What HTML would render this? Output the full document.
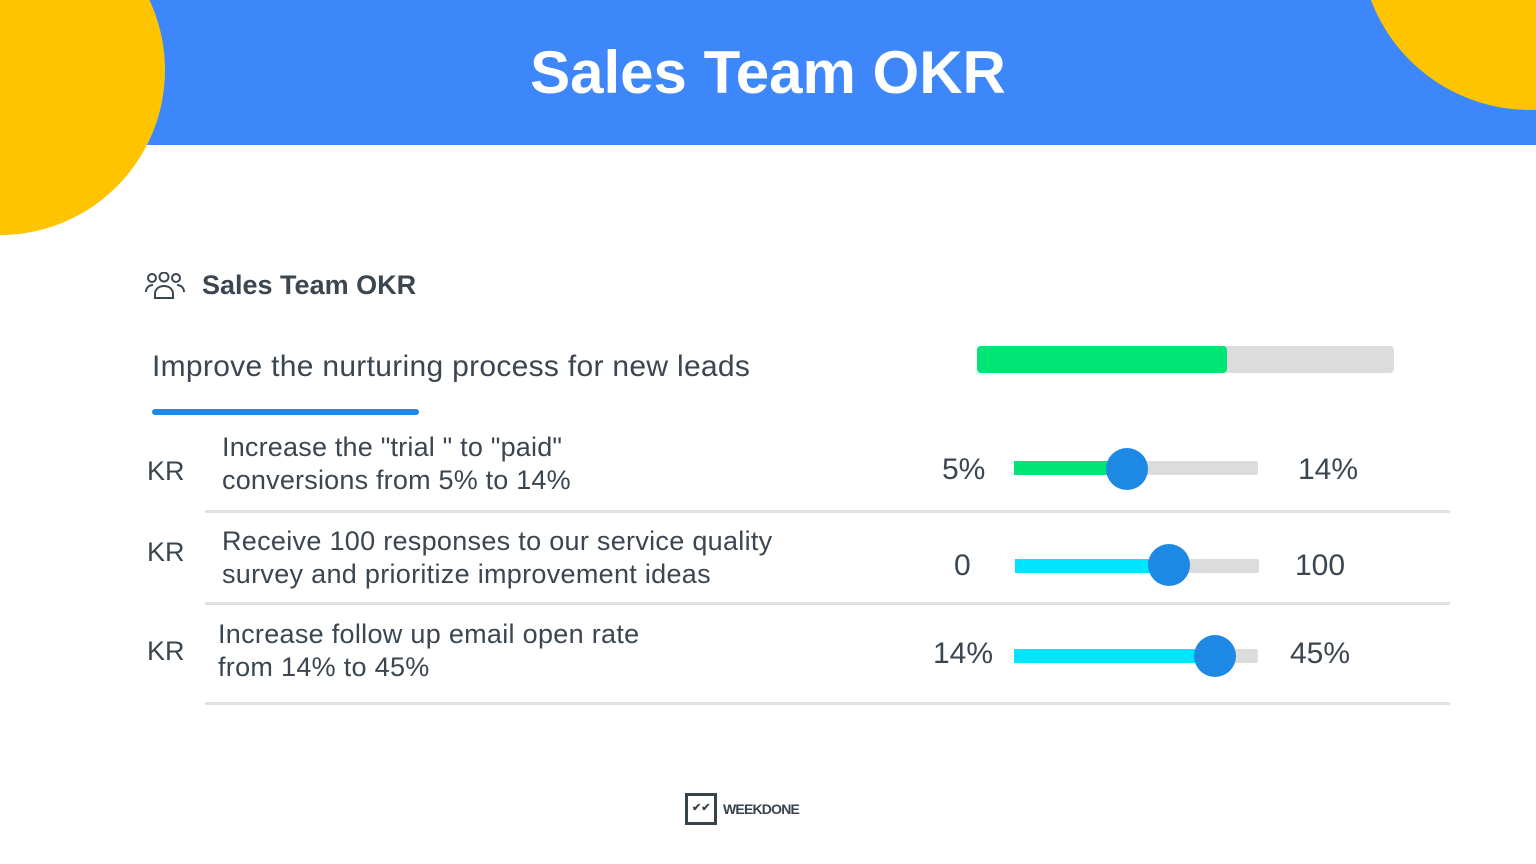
<!DOCTYPE html>
<html><head><style>
body{margin:0;width:1536px;height:864px;position:relative;overflow:hidden;background:#fff;font-family:"Liberation Sans",sans-serif;color:#37434d}
.a{position:absolute}
.hdr{left:0;top:0;width:1536px;height:145px;background:#3d87fb}
.circ{border-radius:50%;background:#ffc400}
.t{font-size:27px;color:#3b4650;white-space:nowrap;line-height:33px}
.track{height:14px;background:#dcdcdc;border-radius:2px}
.knob{width:42px;height:42px;border-radius:50%;background:#1e88e5}
.line{height:3px;background:#e2e2e2;left:205px;width:1245px}
</style></head><body>
<div class="a hdr"></div>
<div class="a circ" style="left:-165px;top:-95px;width:330px;height:330px"></div>
<div class="a circ" style="left:1360px;top:-230px;width:340px;height:340px"></div>
<div class="a" style="left:0;width:1536px;top:38px;text-align:center;color:#fff;font-weight:bold;font-size:60px;letter-spacing:0px">Sales Team OKR</div>

<svg class="a" style="left:145px;top:272px" width="40" height="28" viewBox="0 0 40 28" fill="none" stroke="#3b4650" stroke-width="2">
<circle cx="7" cy="6" r="4"/><circle cx="19" cy="5" r="4.5"/><circle cx="31" cy="6" r="4"/>
<path d="M1 20c0-5 4-7 7-7"/><path d="M39 20c0-5-4-7-7-7"/><path d="M10 26v-4c0-5 4-8 9-8s9 3 9 8v4z"/></svg>
<div class="a" style="left:202px;top:270px;font-size:27px;font-weight:bold;color:#3b4650">Sales Team OKR</div>

<div class="a t" style="left:152px;top:350px;font-size:30px;letter-spacing:0.3px">Improve the nurturing process for new leads</div>
<div class="a" style="left:152px;top:409px;width:267px;height:6px;background:#1e88e5;border-radius:3px"></div>
<div class="a" style="left:977px;top:346px;width:417px;height:27px;background:#dcdcdc;border-radius:4px"></div>
<div class="a" style="left:977px;top:346px;width:250px;height:27px;background:#00e676;border-radius:4px"></div>

<div class="a t" style="left:147px;top:455px">KR</div>
<div class="a t" style="left:222px;top:431px;letter-spacing:0.2px">Increase the "trial " to "paid"<br>conversions from 5% to 14%</div>
<div class="a t" style="left:942px;top:453px;font-size:30px">5%</div>
<div class="a track" style="left:1014px;top:461px;width:244px"></div>
<div class="a" style="left:1014px;top:461px;width:112px;height:14px;background:#00e676"></div>
<div class="a knob" style="left:1106px;top:448px"></div>
<div class="a t" style="left:1298px;top:453px;font-size:30px">14%</div>
<div class="a line" style="top:510px"></div>

<div class="a t" style="left:147px;top:536px">KR</div>
<div class="a t" style="left:222px;top:525px;letter-spacing:0.3px">Receive 100 responses to our service quality<br>survey and prioritize improvement ideas</div>
<div class="a t" style="left:954px;top:549px;font-size:30px">0</div>
<div class="a track" style="left:1015px;top:559px;width:244px"></div>
<div class="a" style="left:1015px;top:559px;width:154px;height:14px;background:#00e5ff"></div>
<div class="a knob" style="left:1148px;top:544px"></div>
<div class="a t" style="left:1295px;top:549px;font-size:30px">100</div>
<div class="a line" style="top:602px"></div>

<div class="a t" style="left:147px;top:635px">KR</div>
<div class="a t" style="left:218px;top:618px;letter-spacing:0.3px">Increase follow up email open rate<br>from 14% to 45%</div>
<div class="a t" style="left:933px;top:637px;font-size:30px">14%</div>
<div class="a track" style="left:1014px;top:649px;width:244px"></div>
<div class="a" style="left:1014px;top:649px;width:200px;height:14px;background:#00e5ff"></div>
<div class="a knob" style="left:1194px;top:635px"></div>
<div class="a t" style="left:1290px;top:637px;font-size:30px">45%</div>
<div class="a line" style="top:702px"></div>

<div class="a" style="left:685px;top:793px;width:32px;height:32px;border:3px solid #37434d;box-sizing:border-box"></div>
<div class="a" style="left:692px;top:801px;font-size:11px;font-weight:bold;color:#37434d">✔✔</div>
<div class="a" style="left:723px;top:801px;font-size:14px;font-weight:bold;color:#37434d;letter-spacing:-0.8px">WEEKDONE</div>
</body></html>
